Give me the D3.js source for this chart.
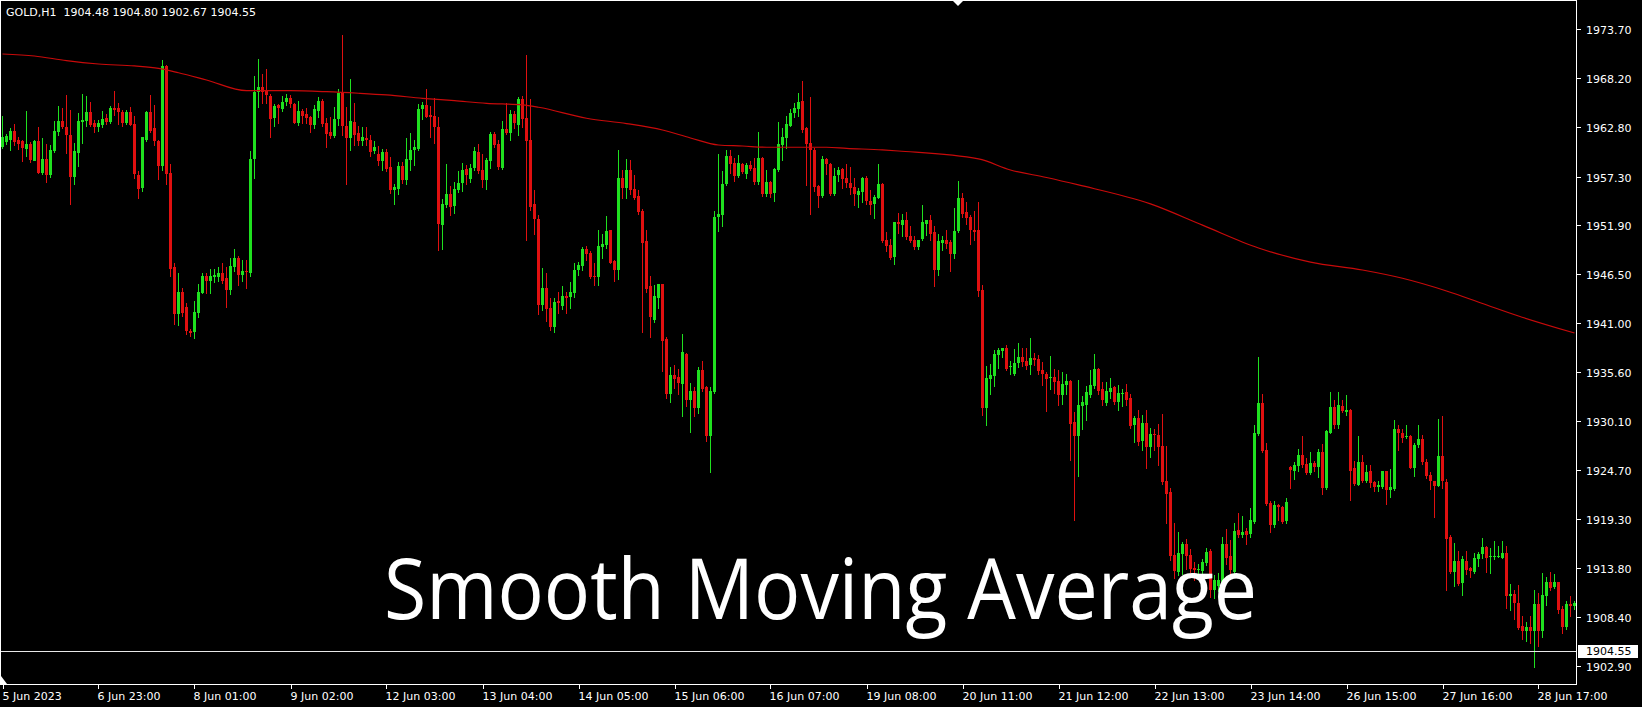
<!DOCTYPE html>
<html><head><meta charset="utf-8">
<script src="https://cdn.jsdelivr.net/npm/d3@7"></script>
<style>html,body{margin:0;padding:0;background:#000;overflow:hidden}svg{display:block}</style>
</head><body>
<svg id="c" width="1642" height="707"></svg>
<script>
const opens=[1960.6,1961.1,1961.4,1962.4,1961.4,1961.2,1960.4,1960.9,1959.1,1961.3,1957.7,1959.3,1957.5,1960.2,1962.3,1963.5,1962.8,1961.9,1957.2,1960.0,1963.4,1963.5,1964.5,1963.3,1962.8,1963.0,1963.8,1963.3,1964.9,1964.9,1964.5,1963.3,1964.5,1963.1,1957.5,1956.0,1961.4,1964.5,1962.7,1961.3,1958.5,1969.6,1957.7,1947.2,1942.0,1944.5,1942.8,1940.1,1940.1,1942.2,1944.4,1946.3,1945.7,1946.2,1946.2,1946.6,1946.0,1944.7,1947.2,1948.2,1946.4,1946.8,1946.6,1959.3,1966.6,1967.2,1966.8,1966.3,1963.8,1965.2,1964.8,1965.5,1966.0,1965.4,1963.3,1964.6,1964.2,1963.9,1963.0,1964.6,1965.7,1963.2,1962.2,1961.8,1963.7,1966.6,1962.9,1961.6,1963.4,1962.1,1961.2,1961.6,1961.4,1960.1,1959.8,1959.0,1960.0,1958.4,1955.8,1955.9,1958.5,1956.9,1959.2,1960.3,1960.4,1964.8,1965.3,1964.1,1964.0,1962.8,1952.0,1954.2,1955.4,1954.0,1955.8,1956.6,1958.1,1957.1,1958.2,1960.0,1958.0,1956.9,1959.0,1962.0,1960.9,1958.3,1962.6,1962.2,1964.2,1963.0,1965.9,1963.8,1961.4,1954.2,1952.6,1943.0,1944.9,1942.7,1940.6,1943.5,1942.9,1944.0,1943.9,1944.3,1946.9,1947.4,1949.3,1948.8,1946.3,1946.1,1949.5,1949.7,1951.4,1947.9,1946.9,1957.1,1956.0,1958.0,1955.9,1955.1,1953.5,1950.1,1945.1,1941.3,1943.9,1945.4,1939.3,1933.2,1935.2,1935.0,1934.3,1937.6,1932.5,1933.5,1931.6,1935.8,1933.9,1928.5,1933.3,1952.8,1953.1,1956.5,1959.6,1958.8,1957.4,1958.7,1957.6,1958.6,1958.2,1956.7,1959.4,1955.4,1956.7,1955.4,1958.0,1960.8,1961.5,1963.0,1964.3,1964.8,1965.7,1962.7,1961.0,1960.3,1956.2,1955.1,1959.2,1958.7,1955.4,1957.4,1958.1,1957.1,1956.6,1956.1,1955.3,1955.6,1957.1,1954.6,1954.2,1955.0,1956.5,1950.3,1949.7,1948.3,1952.2,1951.9,1952.5,1950.7,1950.3,1949.5,1950.3,1952.0,1952.5,1951.1,1946.9,1950.0,1950.3,1950.0,1948.7,1951.2,1954.9,1953.4,1952.8,1951.4,1951.4,1944.7,1931.6,1934.9,1935.2,1937.5,1937.9,1938.2,1936.1,1935.4,1936.5,1937.2,1936.8,1936.3,1937.1,1937.0,1935.8,1935.4,1934.9,1935.0,1934.6,1933.1,1934.1,1934.6,1930.0,1928.5,1931.8,1932.0,1933.0,1934.0,1935.9,1933.7,1932.2,1933.4,1933.9,1932.2,1933.2,1933.4,1932.7,1929.7,1930.5,1927.9,1929.9,1927.3,1928.7,1928.6,1927.4,1923.5,1922.2,1915.2,1913.4,1915.4,1916.5,1915.2,1913.8,1913.6,1913.5,1914.4,1915.7,1911.4,1911.8,1912.2,1916.5,1915.1,1913.4,1918.0,1917.5,1917.9,1917.5,1918.9,1928.7,1932.1,1926.9,1921.0,1918.6,1920.8,1920.6,1918.95,1925.0,1924.6,1925.2,1926.4,1925.4,1924.4,1925.5,1925.0,1926.7,1922.7,1928.8,1931.7,1929.7,1931.8,1931.2,1931.4,1924.9,1923.1,1925.6,1923.5,1924.6,1923.4,1922.8,1922.8,1924.6,1922.5,1922.5,1929.2,1928.8,1928.4,1928.5,1925.0,1927.4,1928.1,1925.6,1924.1,1923.5,1923.0,1926.3,1923.4,1917.3,1913.4,1914.6,1912.1,1914.6,1913.8,1913.4,1914.8,1915.3,1916.1,1915.0,1915.0,1915.0,1915.0,1915.5,1910.7,1910.9,1909.9,1907.4,1906.8,1907.2,1906.8,1909.8,1906.8,1910.7,1912.3,1911.6,1912.2,1909.3,1907.3,1909.8,1909.6];
const highs=[1964.0,1962.0,1962.7,1963.1,1961.7,1961.4,1964.6,1961.1,1961.4,1962.8,1961.6,1960.9,1960.8,1963.5,1965.1,1964.9,1966.4,1964.7,1961.0,1964.4,1966.5,1966.2,1965.6,1963.6,1963.6,1964.6,1964.3,1965.1,1966.8,1965.5,1964.7,1964.7,1965.0,1964.0,1957.9,1961.7,1964.6,1966.4,1965.3,1961.4,1970.2,1969.7,1958.7,1947.7,1946.6,1944.9,1943.2,1940.4,1943.5,1945.4,1946.6,1946.6,1947.0,1947.0,1947.3,1947.7,1947.2,1948.2,1949.2,1948.5,1948.0,1948.0,1960.1,1968.5,1970.4,1968.7,1969.2,1966.5,1965.4,1965.4,1966.2,1966.5,1966.4,1965.5,1965.7,1964.8,1964.9,1964.0,1965.3,1966.1,1965.9,1963.8,1963.9,1965.0,1967.0,1973.0,1965.0,1968.1,1965.5,1962.9,1962.8,1962.8,1961.9,1961.2,1960.7,1960.4,1960.4,1959.5,1956.5,1958.9,1958.9,1961.6,1962.1,1961.4,1965.4,1965.6,1967.0,1965.1,1966.0,1963.9,1954.8,1958.7,1956.3,1956.7,1957.9,1958.8,1958.6,1958.7,1960.6,1960.9,1959.8,1959.4,1962.2,1962.3,1961.4,1963.5,1965.5,1964.7,1964.6,1966.1,1966.3,1970.8,1965.9,1955.8,1953.0,1947.1,1946.6,1943.8,1943.8,1944.5,1945.1,1944.5,1945.6,1947.7,1947.8,1949.5,1949.6,1949.0,1947.7,1951.4,1950.9,1952.9,1951.4,1948.0,1960.3,1958.0,1959.3,1959.1,1957.5,1955.8,1953.7,1951.4,1946.3,1945.3,1945.4,1945.4,1939.5,1936.1,1936.4,1935.9,1939.8,1937.7,1934.4,1933.9,1936.1,1936.8,1934.0,1933.9,1953.5,1959.8,1957.9,1960.2,1960.3,1959.4,1959.7,1958.8,1958.8,1959.0,1959.4,1962.2,1959.5,1958.0,1956.8,1958.3,1963.4,1962.7,1964.0,1964.8,1965.5,1966.6,1967.9,1962.8,1966.1,1960.5,1956.4,1959.6,1959.4,1958.8,1958.3,1958.4,1958.3,1958.7,1958.4,1957.1,1956.0,1957.2,1957.4,1955.8,1955.3,1958.7,1956.6,1951.1,1950.4,1952.3,1953.3,1953.1,1953.4,1951.8,1950.7,1950.3,1954.1,1952.5,1953.0,1951.8,1950.9,1950.7,1951.4,1950.3,1953.8,1956.8,1955.5,1954.5,1953.0,1953.5,1954.5,1945.2,1936.2,1936.5,1938.0,1938.2,1938.3,1938.6,1936.8,1938.1,1938.8,1938.2,1938.3,1939.4,1937.7,1937.5,1936.7,1935.6,1937.4,1935.9,1935.8,1935.6,1935.4,1934.7,1931.1,1934.7,1932.9,1934.0,1935.8,1937.6,1936.0,1934.5,1934.5,1934.9,1934.0,1934.1,1933.7,1934.3,1933.1,1930.7,1931.4,1930.8,1931.4,1929.4,1929.2,1929.8,1930.9,1927.4,1922.7,1918.8,1917.8,1916.7,1917.0,1915.9,1914.5,1914.2,1914.8,1916.0,1915.9,1913.0,1913.2,1917.2,1918.1,1916.9,1918.8,1919.9,1919.6,1918.2,1920.5,1929.7,1937.3,1933.1,1927.7,1921.2,1921.2,1920.9,1920.7,1921.6,1925.1,1925.6,1927.0,1928.5,1926.0,1926.7,1925.7,1927.0,1927.6,1929.1,1933.4,1932.5,1933.4,1932.5,1933.0,1931.5,1925.7,1928.5,1926.4,1925.2,1925.2,1923.5,1923.5,1924.6,1924.6,1924.8,1930.3,1929.7,1929.3,1929.7,1928.6,1927.7,1929.7,1928.6,1925.9,1924.5,1923.5,1930.4,1930.7,1923.7,1917.5,1916.6,1915.7,1915.1,1915.7,1913.9,1915.5,1915.6,1917.1,1916.2,1916.0,1916.8,1916.2,1916.8,1916.2,1912.0,1911.4,1911.9,1908.5,1907.8,1908.5,1911.4,1911.0,1913.3,1912.8,1913.4,1913.1,1912.3,1909.6,1910.1,1910.7,1910.1];
const lows=[1960.5,1960.9,1960.3,1960.8,1960.4,1959.0,1959.6,1958.9,1959.1,1957.7,1957.6,1956.7,1957.2,1960.0,1961.9,1962.7,1959.9,1954.3,1956.5,1958.5,1961.0,1962.9,1962.9,1962.3,1962.4,1962.8,1963.1,1963.2,1964.1,1963.1,1962.9,1963.1,1963.0,1957.1,1954.9,1955.7,1961.2,1962.3,1960.8,1957.0,1958.0,1956.5,1946.3,1940.9,1940.8,1941.8,1939.8,1939.6,1939.4,1941.7,1944.4,1944.4,1944.4,1945.6,1945.7,1945.5,1942.8,1944.2,1946.8,1945.3,1945.7,1944.9,1946.2,1957.1,1965.0,1965.5,1965.5,1961.7,1962.9,1963.2,1964.6,1965.3,1965.0,1963.2,1963.0,1963.3,1963.2,1962.3,1962.7,1963.9,1962.9,1960.6,1961.6,1961.7,1963.0,1961.9,1956.5,1960.2,1960.8,1960.8,1960.8,1960.8,1959.6,1959.9,1958.6,1958.0,1957.9,1955.5,1954.2,1955.4,1956.6,1956.5,1958.0,1958.6,1960.2,1963.7,1963.9,1961.7,1961.0,1949.1,1949.3,1953.9,1953.0,1953.2,1955.6,1955.7,1956.5,1956.7,1958.0,1957.7,1956.1,1955.9,1958.3,1960.6,1958.1,1958.1,1962.0,1961.4,1962.7,1961.9,1962.8,1950.3,1953.6,1950.9,1942.0,1942.5,1941.2,1940.3,1940.0,1942.1,1942.6,1942.1,1942.7,1943.9,1946.4,1946.9,1948.0,1946.0,1945.3,1945.2,1948.3,1949.4,1947.7,1945.7,1945.9,1954.9,1954.9,1955.4,1954.8,1953.1,1940.0,1944.5,1939.5,1941.1,1942.7,1935.7,1932.7,1932.3,1933.8,1933.1,1930.7,1931.8,1928.9,1930.7,1931.0,1933.5,1927.9,1924.5,1933.2,1951.3,1951.8,1956.4,1957.7,1956.8,1957.2,1957.7,1957.1,1958.0,1956.5,1956.5,1955.1,1955.1,1955.0,1954.6,1957.9,1959.1,1960.5,1962.9,1963.9,1964.0,1962.3,1956.4,1953.1,1955.7,1953.9,1955.0,1957.6,1955.3,1955.3,1956.8,1956.0,1956.1,1955.4,1954.1,1953.9,1954.5,1954.2,1953.1,1952.7,1954.9,1950.0,1949.0,1948.1,1947.6,1951.0,1950.7,1950.4,1950.0,1949.3,1949.3,1950.2,1950.8,1950.3,1945.1,1946.4,1949.1,1949.4,1946.8,1948.2,1951.1,1952.8,1952.0,1949.8,1950.3,1944.0,1930.8,1929.7,1933.1,1934.0,1936.0,1937.2,1935.8,1935.4,1935.3,1936.1,1936.3,1935.9,1935.4,1936.4,1935.4,1934.1,1931.2,1933.7,1933.3,1931.9,1932.0,1933.1,1925.8,1919.1,1924.0,1929.2,1930.3,1932.8,1933.8,1933.1,1931.9,1931.9,1932.7,1932.0,1931.4,1931.8,1931.9,1929.4,1927.8,1927.5,1926.9,1924.9,1926.1,1926.9,1925.3,1923.1,1918.8,1914.7,1912.7,1913.0,1913.1,1913.7,1913.4,1912.5,1913.3,1913.2,1914.1,1910.6,1910.5,1911.2,1911.9,1914.3,1913.1,1913.0,1917.3,1917.2,1916.5,1917.2,1918.8,1928.6,1926.7,1920.8,1917.8,1918.4,1919.1,1918.8,1918.8,1922.7,1923.7,1924.6,1925.0,1924.3,1924.3,1924.6,1923.9,1922.0,1922.6,1928.8,1929.4,1929.4,1931.1,1930.8,1921.4,1923.0,1923.0,1923.4,1923.4,1922.8,1922.4,1922.4,1922.7,1920.9,1921.7,1922.5,1926.9,1927.8,1928.2,1924.9,1924.0,1927.3,1925.4,1923.8,1922.6,1919.5,1922.9,1922.7,1911.4,1913.3,1911.8,1911.9,1910.8,1913.1,1912.8,1913.3,1914.0,1914.9,1913.4,1913.3,1914.8,1915.0,1914.9,1909.4,1909.1,1908.1,1907.0,1905.9,1905.7,1905.5,1902.8,1905.1,1906.1,1909.7,1911.4,1911.6,1908.8,1906.6,1907.0,1908.5,1909.3];
const closes=[1961.7,1961.8,1962.4,1961.2,1961.0,1960.4,1960.9,1959.1,1961.3,1957.7,1959.3,1957.5,1960.3,1962.4,1963.5,1962.8,1961.9,1957.2,1960.1,1963.5,1963.6,1964.5,1963.1,1962.8,1963.3,1963.7,1963.3,1964.9,1964.7,1964.5,1963.3,1964.5,1963.1,1957.5,1956.0,1961.7,1964.5,1962.4,1961.2,1958.5,1969.6,1957.6,1947.0,1942.0,1944.5,1942.2,1940.1,1939.9,1942.3,1944.5,1946.3,1945.7,1946.3,1946.4,1946.6,1945.7,1944.7,1947.4,1948.2,1946.3,1946.8,1946.7,1959.3,1966.7,1967.2,1966.6,1966.3,1963.8,1965.1,1964.9,1965.6,1966.0,1965.3,1963.3,1964.6,1964.1,1963.7,1963.0,1964.8,1965.7,1963.2,1962.0,1961.8,1963.7,1966.6,1962.9,1961.6,1963.5,1962.0,1961.2,1961.7,1961.4,1960.1,1960.6,1959.0,1960.0,1958.1,1955.8,1956.1,1958.5,1956.9,1959.2,1960.3,1960.6,1964.8,1965.3,1964.0,1963.9,1962.8,1952.0,1954.3,1955.4,1954.0,1955.9,1956.6,1958.0,1957.4,1958.3,1960.1,1957.9,1956.9,1959.1,1962.0,1960.8,1958.3,1962.6,1962.2,1964.3,1963.2,1965.9,1963.7,1961.2,1954.0,1952.5,1943.0,1944.9,1942.6,1940.6,1943.4,1943.3,1944.0,1943.8,1944.5,1946.9,1947.5,1949.3,1948.7,1946.1,1946.2,1949.6,1949.8,1951.3,1947.7,1946.9,1957.1,1956.0,1958.0,1955.8,1954.9,1953.3,1950.0,1944.8,1941.7,1944.0,1945.4,1939.1,1933.2,1935.3,1934.8,1934.3,1937.8,1932.5,1933.5,1931.6,1935.8,1933.7,1928.5,1933.5,1952.8,1953.1,1956.5,1959.6,1958.7,1957.4,1958.8,1957.8,1958.6,1958.1,1956.7,1959.4,1955.4,1956.7,1955.4,1958.1,1960.9,1961.7,1963.1,1964.4,1964.9,1965.6,1962.5,1960.9,1960.2,1956.2,1955.1,1959.2,1958.6,1955.4,1957.4,1958.0,1957.0,1956.5,1956.0,1955.3,1955.7,1957.1,1954.5,1954.1,1955.0,1956.5,1950.2,1949.6,1948.3,1952.2,1952.0,1952.5,1950.6,1950.1,1949.5,1950.3,1952.2,1952.5,1950.9,1946.9,1950.1,1950.3,1949.8,1948.7,1951.3,1954.9,1953.1,1952.7,1951.4,1951.2,1944.6,1931.6,1934.9,1935.3,1937.6,1938.0,1938.2,1935.9,1936.2,1936.6,1937.2,1936.6,1936.2,1937.1,1936.9,1935.7,1935.4,1934.8,1935.0,1934.4,1933.1,1934.3,1934.6,1929.8,1928.5,1931.9,1932.2,1933.4,1934.1,1935.9,1933.5,1932.5,1933.5,1933.8,1932.2,1933.2,1933.3,1932.5,1929.6,1930.5,1927.8,1929.9,1927.2,1928.7,1928.6,1927.3,1923.4,1922.1,1915.1,1913.4,1915.5,1916.5,1915.2,1913.7,1913.6,1913.7,1914.5,1915.6,1911.4,1912.5,1912.5,1916.5,1915.0,1913.5,1917.9,1917.5,1917.8,1917.5,1919.1,1928.8,1932.1,1926.8,1920.9,1918.6,1920.8,1920.6,1918.95,1921.1,1924.7,1925.3,1926.4,1925.3,1924.4,1925.5,1925.0,1926.7,1922.7,1929.0,1931.7,1929.7,1931.9,1931.2,1931.4,1924.6,1923.1,1925.6,1923.5,1924.5,1923.3,1922.8,1923.0,1924.6,1922.5,1922.8,1929.2,1928.8,1928.2,1928.5,1925.0,1927.5,1928.1,1925.5,1924.0,1923.4,1923.0,1926.3,1923.5,1917.1,1913.4,1914.6,1912.1,1914.8,1913.6,1913.5,1914.9,1915.4,1916.1,1914.9,1915.1,1915.1,1915.1,1915.5,1910.7,1910.9,1909.9,1907.1,1906.8,1907.2,1906.8,1909.8,1906.8,1910.8,1912.3,1911.6,1912.2,1909.1,1907.3,1909.8,1909.6,1909.9];

const maBars=[0,8,16,24,33,39,44,51,61,72,81,89,96,105,113,121,130,134,146,156,165,172,179,185,191,206,211,220,224,244,252,261,269,287,300,314,327,340,350,361,370,379,393];
const maValues=[1970.92,1970.70,1970.18,1969.81,1969.59,1969.33,1968.84,1968.03,1966.84,1966.84,1966.73,1966.56,1966.37,1966.00,1965.73,1965.44,1965.26,1965.00,1963.78,1963.19,1962.48,1961.59,1960.81,1960.70,1960.56,1960.56,1960.44,1960.26,1960.14,1959.26,1958.03,1957.20,1956.37,1954.26,1951.90,1949.37,1947.80,1946.92,1946.00,1944.59,1943.20,1941.81,1939.92];

const priceTicks=["1973.70","1968.20","1962.80","1957.30","1951.90","1946.50","1941.00","1935.60","1930.10","1924.70","1919.30","1913.80","1908.40","1902.90"];
const timeLabels=["5 Jun 2023","6 Jun 23:00","8 Jun 01:00","9 Jun 02:00","12 Jun 03:00","13 Jun 04:00","14 Jun 05:00","15 Jun 06:00","16 Jun 07:00","19 Jun 08:00","20 Jun 11:00","21 Jun 12:00","22 Jun 13:00","23 Jun 14:00","26 Jun 15:00","27 Jun 16:00","28 Jun 17:00"];
const timeLabelBars=[0,24,48,72,96,120,144,168,192,216,240,264,288,312,336,360,384];
const header="GOLD,H1  1904.48 1904.80 1902.67 1904.55";
const bidPrice=1904.55;
const titleText="Smooth Moving Average";

const W=1642,H=707,plotR=1576,plotB=684;
const FONT="'DejaVu Sans', sans-serif";
const UP="#1fe01f", DOWN="#e01010", MA="#c80a0a";
const svg=d3.select("#c");
svg.append("rect").attr("width",W).attr("height",H).attr("fill","#000");

const y=d3.scaleLinear().domain([1900.92,1976.92]).range([plotB,0]);
const x=d3.scaleLinear().domain([0,393]).range([2.5,2.5+4*393]);

const bars=d3.range(opens.length).map(i=>({i,o:opens[i],h:highs[i],l:lows[i],c:closes[i]}));
const g=svg.append("g").attr("shape-rendering","crispEdges");
g.selectAll("line.w").data(bars).join("line").attr("class","w")
 .attr("x1",d=>x(d.i)).attr("x2",d=>x(d.i))
 .attr("y1",d=>y(Math.max(d.h,d.o,d.c))).attr("y2",d=>y(Math.min(d.l,d.o,d.c))+1)
 .attr("stroke",d=>d.c>=d.o?UP:DOWN).attr("stroke-width",1);
g.selectAll("rect.b").data(bars).join("rect").attr("class","b")
 .attr("x",d=>x(d.i)-1.5).attr("width",3)
 .attr("y",d=>Math.round(y(Math.max(d.o,d.c))))
 .attr("height",d=>Math.max(1,Math.round(Math.abs(y(d.o)-y(d.c)))))
 .attr("fill",d=>d.c>=d.o?UP:DOWN);

const maPts=maBars.map((b,k)=>[b,maValues[k]]);
svg.append("path").datum(maPts)
 .attr("d",d3.line().x(d=>x(d[0])).y(d=>y(d[1])).curve(d3.curveMonotoneX))
 .attr("fill","none").attr("stroke",MA).attr("stroke-width",1.2);

// bid line
svg.append("line").attr("x1",0).attr("x2",plotR).attr("y1",Math.round(y(bidPrice))+0.5).attr("y2",Math.round(y(bidPrice))+0.5)
 .attr("stroke","#e8e8e8").attr("stroke-width",1);

// frame
svg.append("rect").attr("x",0.5).attr("y",0.5).attr("width",plotR).attr("height",plotB)
 .attr("fill","none").attr("stroke","#fff").attr("stroke-width",1).attr("shape-rendering","crispEdges");

// price axis
const pa=svg.append("g");
priceTicks.forEach(t=>{
  const yy=Math.round(y(+t))+0.5;
  pa.append("line").attr("x1",plotR+0.5).attr("x2",plotR+5).attr("y1",yy).attr("y2",yy).attr("stroke","#fff");
  pa.append("text").attr("x",plotR+10).attr("y",yy+4).attr("fill","#fff").attr("font-family",FONT).attr("font-size",11).text(t);
});
const by=Math.round(y(bidPrice));
pa.append("rect").attr("x",plotR+2).attr("y",by-6).attr("width",60).attr("height",13).attr("fill","#fff");
pa.append("text").attr("x",plotR+10).attr("y",by+4).attr("fill","#000").attr("font-family",FONT).attr("font-size",11).text(bidPrice.toFixed(2));

// time axis
const ta=svg.append("g");
timeLabels.forEach((t,k)=>{
  const xx=Math.round(x(timeLabelBars[k]))+0.5;
  ta.append("line").attr("x1",xx).attr("x2",xx).attr("y1",plotB).attr("y2",plotB+5).attr("stroke","#fff");
  ta.append("text").attr("x",xx-1).attr("y",plotB+16).attr("fill","#fff").attr("font-family",FONT).attr("font-size",11).text(t);
});

// markers
svg.append("polygon").attr("points","952,0 964,0 958,6").attr("fill","#fff");
svg.append("polygon").attr("points","1,676 1,684 7,684").attr("fill","#fff");

// header
svg.append("text").attr("x",6).attr("y",16).attr("fill","#fff").attr("font-family",FONT).attr("font-size",11)
 .attr("xml:space","preserve").style("white-space","pre").text(header);

// title
svg.append("text").attr("x",384).attr("y",619).attr("fill","#fff").attr("font-family","'Open Sans','Noto Sans',sans-serif")
 .attr("font-size",84).attr("textLength",873).attr("lengthAdjust","spacingAndGlyphs").text(titleText);
</script>
</body></html>
